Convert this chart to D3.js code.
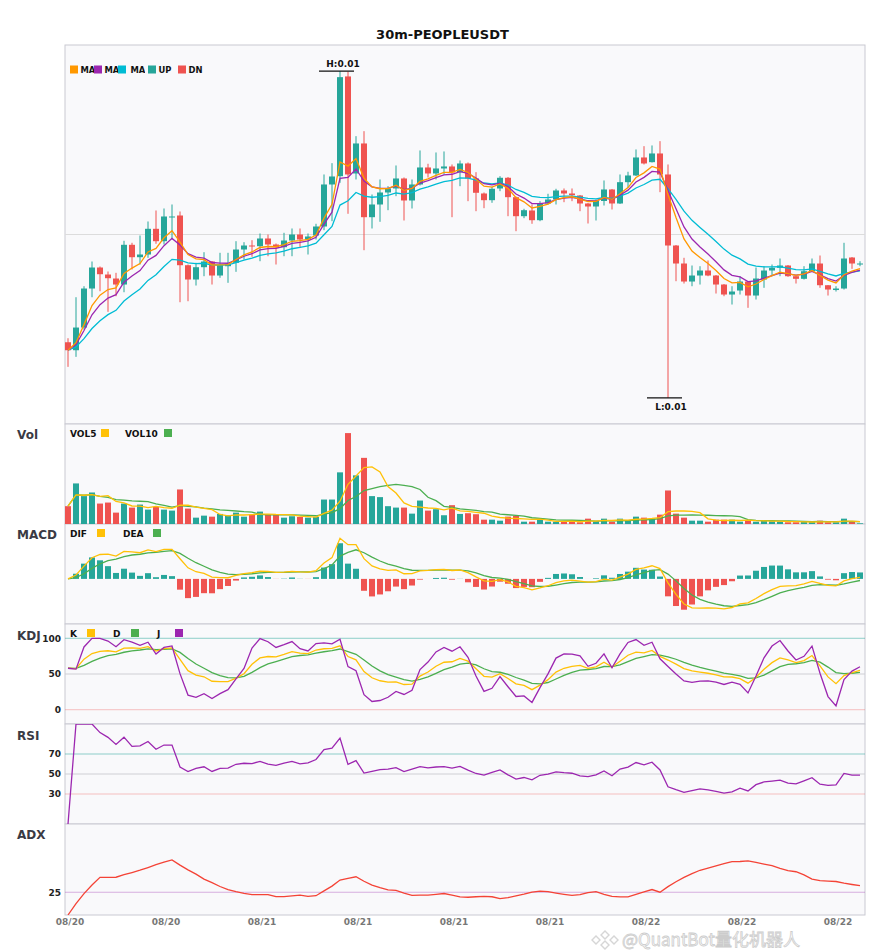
<!DOCTYPE html>
<html><head><meta charset="utf-8">
<script src="https://cdn.jsdelivr.net/npm/d3@7"></script>
<style>
body{margin:0;background:#fff;}
svg{display:block;font-family:"DejaVu Sans",sans-serif;}
</style>
</head><body>
<svg id="chart" width="885" height="950"></svg>
<script>
// ---- data (30m bars, PEOPLEUSDT) ----
const chartTitle = "30m-PEOPLEUSDT";
const open = [
0.009923,0.009843,0.01007,0.01046,0.01067,0.0106,0.01056,0.0105,0.010897,0.010773,
0.0108,0.011057,0.010933,0.011175,0.01119,0.010693,0.01055,0.010673,0.01073,0.01059,
0.010683,0.010717,0.01085,0.01089,0.010883,0.01096,0.0109,0.010873,0.01094,0.011,
0.01095,0.01099,0.01108,0.0115,0.011583,0.01258,0.01161,0.01191,0.011173,0.0113,
0.01142,0.01146,0.01156,0.01134,0.0115,0.01167,0.01161,0.01166,0.01168,0.011623,
0.01171,0.01156,0.01141,0.011343,0.01146,0.011567,0.011373,0.011183,0.01124,0.011143,
0.01131,0.01135,0.01144,0.01141,0.01139,0.01131,0.01128,0.011335,0.01145,0.01131,
0.011523,0.01159,0.01177,0.011723,0.01181,0.0116,0.01089,0.01071,0.01053,0.01059,
0.01064,0.01059,0.0105,0.0104,0.01044,0.01053,0.01039,0.01055,0.01064,0.010667,
0.01069,0.010583,0.010557,0.010633,0.01071,0.010493,0.010445,0.01046,0.01077,0.010707];
const close = [
0.009843,0.01007,0.01046,0.01067,0.010603,0.010563,0.0105,0.010897,0.010773,0.0108,
0.011057,0.010933,0.01118,0.01118,0.010693,0.01055,0.010673,0.01073,0.01059,0.010697,
0.010707,0.01085,0.01089,0.010883,0.01096,0.0109,0.010873,0.01094,0.011,0.01095,
0.01098,0.01108,0.0115,0.01158,0.012573,0.0116,0.01191,0.011173,0.0113,0.01142,
0.01146,0.01156,0.01134,0.0115,0.01167,0.01161,0.01166,0.01168,0.01162,0.01171,
0.01156,0.011417,0.011343,0.011457,0.011567,0.011373,0.011183,0.011243,0.011143,0.01131,
0.01135,0.01144,0.01141,0.011393,0.01131,0.01128,0.011335,0.01145,0.01131,0.011523,
0.01159,0.01177,0.01171,0.01181,0.0116,0.01089,0.01071,0.01053,0.01059,0.01064,
0.01059,0.0105,0.0104,0.01043,0.01053,0.01039,0.01056,0.01064,0.010667,0.01069,
0.010583,0.010557,0.010633,0.01071,0.010493,0.01045,0.01046,0.01076,0.01071,0.01071];
const high = [
0.009963,0.010373,0.010483,0.01073,0.01068,0.01063,0.010617,0.010937,0.010917,0.01099,
0.01113,0.01124,0.01126,0.0113,0.01123,0.0107,0.010717,0.010823,0.010735,0.010817,
0.010817,0.010933,0.010923,0.010943,0.01101,0.011,0.01091,0.011017,0.01106,0.01106,
0.01101,0.011107,0.0116,0.011713,0.012633,0.012627,0.011983,0.012033,0.0114,0.01155,
0.011483,0.01169,0.01157,0.01155,0.01184,0.011707,0.01182,0.01183,0.0117,0.01174,
0.01172,0.011623,0.01142,0.011477,0.011583,0.011575,0.01138,0.011257,0.0113,0.011333,
0.011407,0.011457,0.01146,0.01146,0.011395,0.011315,0.01135,0.01154,0.011455,0.0116,
0.011627,0.01185,0.011883,0.01189,0.011933,0.0117,0.010895,0.010767,0.01069,0.010683,
0.01074,0.010595,0.010505,0.010483,0.010583,0.010535,0.01067,0.010683,0.0107,0.01076,
0.010695,0.010585,0.010683,0.01076,0.01079,0.010495,0.010483,0.010917,0.010775,0.010733];
const low = [
0.009677,0.009777,0.01005,0.010373,0.010433,0.010227,0.010383,0.010423,0.01065,0.0107,
0.010767,0.010907,0.0109,0.01095,0.010323,0.010333,0.01049,0.010583,0.0105,0.010567,
0.010517,0.010627,0.01075,0.010777,0.010733,0.010783,0.0107,0.010783,0.010783,0.010867,
0.0108,0.01095,0.011043,0.011133,0.011517,0.011207,0.01155,0.010843,0.01106,0.011127,
0.011243,0.011383,0.01114,0.01126,0.01149,0.01157,0.01155,0.0116,0.011173,0.011483,
0.011333,0.011233,0.011263,0.011317,0.011433,0.011183,0.011033,0.011163,0.011107,0.011133,
0.0113,0.0113,0.011323,0.011333,0.011233,0.01111,0.01114,0.01129,0.01125,0.011305,
0.011467,0.011585,0.0117,0.01172,0.011423,0.009367,0.010533,0.01051,0.010483,0.0105,
0.010583,0.01041,0.010383,0.0103,0.0104,0.010267,0.01035,0.010467,0.010583,0.010583,
0.010577,0.01051,0.01055,0.01063,0.010467,0.01039,0.01043,0.01045,0.010657,0.010683];
// volume, millions
const volume = [
35.4,80.6,55.4,62.6,40.6,42.6,22.6,40.6,32.6,38.6,
28.6,34,28.6,26.6,68.6,30.6,12.6,16.6,14.6,20,
17.4,22.6,14.6,18.6,24.6,18.6,18.6,12.6,15.4,14,
12.6,14,48.6,48.6,102.6,180.6,96.6,131.4,55.4,53.4,
35.4,32.6,32.6,20.6,46.6,26.6,29.4,17.4,37.4,20,
21.4,19.4,8.6,8.6,6.6,14.6,16,4.6,4.6,8.6,
4.6,4.6,4.6,5.4,3.4,10.6,5.4,10.6,4.6,10.6,
6.6,14.6,12.6,10.6,18.6,66.6,20.6,12.6,6.6,6.6,
4.6,8.6,8.6,8.6,4.6,7.4,4.6,6.6,5.4,4.6,
3.4,3.4,4.6,4,6.6,3.4,3.4,10.6,5.4,1.4];
const xTickIndex = [0,12,24,36,48,60,72,84,96];
const xTickLabels = ["08/20","08/20","08/21","08/21","08/21","08/21","08/22","08/22","08/22"];
const kdjTicks = [0,50,100];
const rsiTicks = [30,50,70];
const adxTicks = [25];
// indicator periods (fitted to the reference's lines)
const maSpans = [5,7,13];
const macdFast = 6, macdSlow = 13, macdSignal = 5;

// ---- indicators derived from the OHLCV above ----
const N = close.length;
function ewa(arr, a){ const o=[]; arr.forEach((v,i)=>o.push(i===0?v:o[i-1]+a*(v-o[i-1]))); return o; }
const ema = (arr, span) => ewa(arr, 2/(span+1));
function sma(arr, n){ return arr.map((v,i)=>d3.mean(arr.slice(Math.max(0,i-n+1), i+1))); }
const [maA, maB, maC] = maSpans.map(s=>ema(close,s));
const vol5 = sma(volume,5), vol10 = sma(volume,10);
const eF = ema(close,macdFast), eS = ema(close,macdSlow);
const dif = eF.map((v,i)=>v-eS[i]);
const dea = ema(dif,macdSignal);
const hist = dif.map((v,i)=>2*(v-dea[i]));
const rsv = close.map((c,i)=>{
  const s=Math.max(0,i-8); const hh=d3.max(high.slice(s,i+1)), ll=d3.min(low.slice(s,i+1));
  return hh===ll?50:(c-ll)/(hh-ll)*100; });
const kK = ewa(rsv,1/3), dD = ewa(kK,1/3);
const jJ = kK.map((k,i)=>Math.max(0,Math.min(100,3*k-2*dD[i])));
const delta = close.map((c,i)=>i===0?0:c-close[i-1]);
const ag = ewa(delta.map(d=>Math.max(d,0)),1/14), al = ewa(delta.map(d=>Math.max(-d,0)),1/14);
const rsi = ag.map((g,i)=>(g+al[i])===0?0:100*g/(g+al[i]));
const pdm = high.map((h,i)=>{ if(i===0) return 0; const up=h-high[i-1], dn=low[i-1]-low[i]; return (up>dn&&up>0)?up:0; });
const mdm = high.map((h,i)=>{ if(i===0) return 0; const up=h-high[i-1], dn=low[i-1]-low[i]; return (dn>up&&dn>0)?dn:0; });
const tr = high.map((h,i)=> i===0? h-low[i] : Math.max(h-low[i], Math.abs(h-close[i-1]), Math.abs(low[i]-close[i-1])));
const str = ewa(tr,1/8), sp = ewa(pdm,1/8), sm = ewa(mdm,1/8);
const dx = str.map((t,i)=>{ const p=100*sp[i]/t, m=100*sm[i]/t; return (p+m)===0?0:100*Math.abs(p-m)/(p+m); });
const adx = ewa(dx,1/8);

// ---- layout ----
const svg = d3.select("#chart");
const UP="#26a69a", DN="#ef5350";
const BG="#f9f9fb", BORDER="#c9c9d2";
const P = {
  main:{t:45,b:424}, vol:{t:424,b:524}, macd:{t:524,b:624},
  kdj:{t:624,b:724}, rsi:{t:724,b:824}, adx:{t:824,b:915}
};
const L=65, R=865;
const x = d3.scaleBand().domain(d3.range(N)).range([64,864]).paddingInner(0.25).paddingOuter(0.125);
const xc = i => x(i)+x.bandwidth()/2;

svg.append("rect").attr("width",885).attr("height",950).attr("fill","#fff");
Object.entries(P).forEach(([k,p])=>{
  svg.append("rect").attr("x",L).attr("y",p.t).attr("width",R-L).attr("height",p.b-p.t)
    .attr("fill",BG).attr("stroke",BORDER).attr("stroke-width",1);
  svg.append("clipPath").attr("id","clip-"+k).append("rect")
    .attr("x",L).attr("y",p.t).attr("width",R-L).attr("height",p.b-p.t);
});
const g = k => svg.append("g").attr("clip-path",`url(#clip-${k})`);

svg.append("text").attr("x",442.5).attr("y",39).attr("text-anchor","middle")
  .attr("font-size",13).attr("font-weight","bold").attr("fill","#111").text(chartTitle);

// ---- main candles ----
const lo = d3.min(low), hi = d3.max(high), pad=(hi-lo)*0.08;
const y = d3.scaleLinear().domain([lo-pad, hi+pad]).range([P.main.b, P.main.t]);
const gm = g("main");
const mid = (lo-pad+hi+pad)/2;
gm.append("line").attr("x1",L).attr("x2",R).attr("y1",y(mid)).attr("y2",y(mid))
  .attr("stroke","#dcdcdc").attr("stroke-width",1);
const idx = d3.range(N);
const col = i => close[i]>=open[i]?UP:DN;
gm.selectAll(".wick").data(idx).join("line")
  .attr("x1",xc).attr("x2",xc).attr("y1",i=>y(high[i])).attr("y2",i=>y(low[i]))
  .attr("stroke",col).attr("stroke-width",1);
gm.selectAll(".body").data(idx).join("rect")
  .attr("x",i=>x(i)).attr("width",x.bandwidth())
  .attr("y",i=>y(Math.max(open[i],close[i])))
  .attr("height",i=>Math.max(1,Math.abs(y(open[i])-y(close[i]))))
  .attr("fill",col);
const lineOf = (sc)=>d3.line().x((d,i)=>xc(i)).y(d=>sc(d));
[[maC,"#00bcd4"],[maB,"#9c27b0"],[maA,"#ff9800"]].forEach(([s,c])=>{
  gm.append("path").attr("d",lineOf(y)(s)).attr("fill","none").attr("stroke",c).attr("stroke-width",1.3);
});
// H / L markers
const hiI = high.indexOf(hi), loI = low.indexOf(lo);
gm.append("line").attr("x1",xc(hiI)-21).attr("x2",xc(hiI)+14).attr("y1",y(hi)).attr("y2",y(hi)).attr("stroke","#111").attr("stroke-width",1.2);
gm.append("text").attr("x",xc(hiI)+3).attr("y",y(hi)-4).attr("text-anchor","middle").attr("font-size",9).attr("font-weight","bold").attr("fill","#111").text("H:"+hi.toFixed(2));
gm.append("line").attr("x1",xc(loI)-21).attr("x2",xc(loI)+14).attr("y1",y(lo)).attr("y2",y(lo)).attr("stroke","#111").attr("stroke-width",1.2);
gm.append("text").attr("x",xc(loI)+3).attr("y",y(lo)+12).attr("text-anchor","middle").attr("font-size",9).attr("font-weight","bold").attr("fill","#111").text("L:"+lo.toFixed(2));
// main legend (later items overlay earlier labels, as in the reference)
const mainLegend = [["MA"+maSpans[0],"#ff9800",70,10.5,0],["MA"+maSpans[1],"#9c27b0",94,10.5,0],["MA"+maSpans[2],"#00bcd4",118,12.5,0],["UP",UP,148,10.5,-3],["DN",DN,178,10.5,0]];
mainLegend.forEach(([t,c,lx,off,bgo])=>{
  svg.append("rect").attr("x",lx+bgo).attr("y",63).attr("width",34-bgo).attr("height",12).attr("fill",BG);
  svg.append("rect").attr("x",lx).attr("y",65.5).attr("width",8).attr("height",8).attr("fill",c);
  svg.append("text").attr("x",lx+off).attr("y",72.8).attr("font-size",8.4).attr("font-weight","bold").attr("fill","#111").text(t);
});

// ---- volume ----
const yv = d3.scaleLinear().domain([0,d3.max(volume)*1.1]).range([P.vol.b,P.vol.t]);
const gv = g("vol");
gv.selectAll(".vb").data(idx).join("rect").attr("x",i=>x(i)).attr("width",x.bandwidth())
  .attr("y",i=>yv(volume[i])).attr("height",i=>yv(0)-yv(volume[i])).attr("fill",col);
[[vol10,"#4caf50"],[vol5,"#ffc107"]].forEach(([s,c])=>gv.append("path").attr("d",lineOf(yv)(s)).attr("fill","none").attr("stroke",c).attr("stroke-width",1.3));

// ---- MACD ----
const allM = dif.concat(dea,hist);
const mlo=d3.min(allM), mhi=d3.max(allM), mp=(mhi-mlo)*0.2;
const ym = d3.scaleLinear().domain([mlo-mp,mhi+mp]).range([P.macd.b,P.macd.t]);
const gmc = g("macd");
gmc.selectAll(".hb").data(idx).join("rect").attr("x",i=>x(i)).attr("width",x.bandwidth())
  .attr("y",i=>Math.min(ym(0),ym(hist[i]))).attr("height",i=>Math.abs(ym(0)-ym(hist[i])))
  .attr("fill",i=>hist[i]>=0?UP:DN);
[[dea,"#4caf50"],[dif,"#ffc107"]].forEach(([s,c])=>gmc.append("path").attr("d",lineOf(ym)(s)).attr("fill","none").attr("stroke",c).attr("stroke-width",1.3));

// ---- KDJ ----
const yk = d3.scaleLinear().domain([-20,120]).range([P.kdj.b,P.kdj.t]);
const gk = g("kdj");
const gridCol = {0:"rgba(239,83,80,0.35)",30:"rgba(239,83,80,0.35)",50:"#cfcfd4",70:"rgba(38,166,154,0.5)",100:"rgba(38,166,154,0.5)",25:"rgba(156,39,176,0.35)"};
kdjTicks.forEach(t=>gk.append("line").attr("x1",L).attr("x2",R).attr("y1",yk(t)).attr("y2",yk(t)).attr("stroke",gridCol[t]).attr("stroke-width",1));
[[dD,"#4caf50"],[kK,"#ffc107"],[jJ,"#9c27b0"]].forEach(([s,c])=>gk.append("path").attr("d",lineOf(yk)(s)).attr("fill","none").attr("stroke",c).attr("stroke-width",1.3));

// ---- RSI ----
const yr = d3.scaleLinear().domain([0,100]).range([P.rsi.b,P.rsi.t]);
const gr = g("rsi");
rsiTicks.forEach(t=>gr.append("line").attr("x1",L).attr("x2",R).attr("y1",yr(t)).attr("y2",yr(t)).attr("stroke",gridCol[t]).attr("stroke-width",1));
gr.append("path").attr("d",lineOf(yr)(rsi)).attr("fill","none").attr("stroke","#9c27b0").attr("stroke-width",1.3);

// ---- ADX ----
const ya = d3.scaleLinear().domain([0,100]).range([P.adx.b,P.adx.t]);
const ga = g("adx");
adxTicks.forEach(t=>ga.append("line").attr("x1",L).attr("x2",R).attr("y1",ya(t)).attr("y2",ya(t)).attr("stroke",gridCol[t]).attr("stroke-width",1));
ga.append("path").attr("d",lineOf(ya)(adx)).attr("fill","none").attr("stroke","#f44336").attr("stroke-width",1.3);

// ---- y tick labels ----
const tickTxt = (sc,ticks)=>ticks.forEach(t=>svg.append("text").attr("x",61).attr("y",sc(t)+3.3)
  .attr("text-anchor","end").attr("font-size",9).attr("font-weight","bold").attr("fill","#222").text(t));
tickTxt(yk,kdjTicks); tickTxt(yr,rsiTicks); tickTxt(ya,adxTicks);

// ---- panel titles ----
[["Vol",439],["MACD",539],["KDJ",640],["RSI",740],["ADX",839]].forEach(([t,yy])=>
  svg.append("text").attr("x",17).attr("y",yy).attr("font-size",12).attr("font-weight","bold").attr("fill","#3a3a44").text(t));

// ---- sub legends ----
const subLegend = (items, yTop)=>items.forEach(([t,c,tx,sx])=>{
  svg.append("text").attr("x",tx).attr("y",yTop+7.5).attr("font-size",9).attr("font-weight","bold").attr("fill","#111").text(t);
  svg.append("rect").attr("x",sx).attr("y",yTop).attr("width",8).attr("height",8).attr("fill",c);
});
subLegend([["VOL5","#ffc107",70,101],["VOL10","#4caf50",125,164]],429);
subLegend([["DIF","#ffc107",70,97],["DEA","#4caf50",123,153]],529);
subLegend([["K","#ffc107",70,87],["D","#4caf50",113,131],["J","#9c27b0",157,175]],629);

// ---- x tick labels ----
xTickIndex.forEach((i,k)=>svg.append("text").attr("x",xc(i)+2).attr("y",925).attr("text-anchor","middle")
  .attr("font-size",9).attr("font-weight","bold").attr("fill","#777").text(xTickLabels[k]));

// ---- watermark overlay seen on the reference (kept clear of the axis labels) ----
const wm = svg.append("g").attr("opacity",0.85);
[[596,940],[605,935],[605,945],[614,940]].forEach(([cx,cy])=>
  wm.append("path").attr("d",`M${cx},${cy-4}L${cx+4},${cy}L${cx},${cy+4}L${cx-4},${cy}Z`).attr("fill","none").attr("stroke","#cfcfcf").attr("stroke-width",1.4));
wm.append("text").attr("x",622).attr("y",946).attr("font-size",17)
  .attr("font-family","'Noto Sans CJK SC','Noto Sans',sans-serif")
  .attr("fill","#ffffff").attr("stroke","#c4c4c4").attr("stroke-width",0.8).text("@QuantBot量化机器人");
</script>
</body></html>
